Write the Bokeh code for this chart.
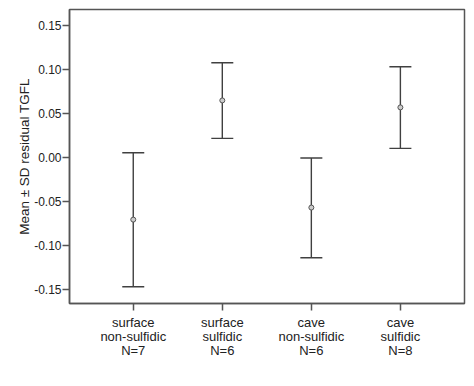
from bokeh.plotting import figure
from bokeh.models import ColumnDataSource, Whisker, TeeHead, Range1d, FixedTicker, NumeralTickFormatter
from bokeh.embed import file_html
from bokeh.resources import INLINE

groups = ["surface\nnon-sulfidic\nN=7", "surface\nsulfidic\nN=6", "cave\nnon-sulfidic\nN=6", "cave\nsulfidic\nN=8"]
means = [-0.0707, 0.0647, -0.057, 0.0568]
upper = [0.0053, 0.1075, -0.0007, 0.1030]
lower = [-0.147, 0.0216, -0.114, 0.0102]
yticks = [-0.15, -0.10, -0.05, 0.00, 0.05, 0.10, 0.15]

xs = list(range(1, len(groups) + 1))
src = ColumnDataSource(dict(x=xs, mean=means, upper=upper, lower=lower))

p = figure(width=466, height=378, output_backend="svg", toolbar_location=None,
           x_range=Range1d(0.284, 4.72), y_range=Range1d(-0.166, 0.168),
           min_border_left=69, min_border_right=2, min_border_top=9, min_border_bottom=75)
p.xgrid.visible = False
p.ygrid.visible = False
p.outline_line_color = "#555555"
p.outline_line_width = 1.5

w = Whisker(source=src, base="x", upper="upper", lower="lower",
            line_color="#404040", line_width=1.4,
            upper_head=TeeHead(size=22, line_color="#404040", line_width=1.4),
            lower_head=TeeHead(size=22, line_color="#404040", line_width=1.4))
p.add_layout(w)
p.scatter("x", "mean", source=src, size=5, marker="circle", fill_color="#cccccc",
          line_color="#555555", line_width=1)

p.xaxis.ticker = FixedTicker(ticks=xs)
p.xaxis.major_label_overrides = {i + 1: g for i, g in enumerate(groups)}
p.yaxis.ticker = FixedTicker(ticks=yticks)
p.yaxis.formatter = NumeralTickFormatter(format="0.00")
for ax in (p.xaxis, p.yaxis):
    ax.axis_line_color = "#555555"
    ax.axis_line_width = 1.5
    ax.major_tick_line_color = "#555555"
    ax.major_tick_line_width = 1.5
    ax.major_tick_out = 7
    ax.major_tick_in = 0
    ax.minor_tick_line_color = None
    ax.major_label_text_font = "Liberation Sans"
    ax.major_label_text_color = "#222222"
p.yaxis.major_label_text_font_size = "12px"
p.xaxis.major_label_text_font_size = "13px"
p.xaxis.major_label_text_line_height = 0.95
p.xaxis.major_label_standoff = 4
p.yaxis.major_label_standoff = 1
p.yaxis.axis_label = "Mean \u00b1 SD residual TGFL"
p.yaxis.axis_label_text_font = "Liberation Sans"
p.yaxis.axis_label_text_font_style = "normal"
p.yaxis.axis_label_text_font_size = "13.5px"
p.yaxis.axis_label_text_color = "#222222"
p.yaxis.axis_label_standoff = -1

open("out.html", "w").write(file_html(p, INLINE))
